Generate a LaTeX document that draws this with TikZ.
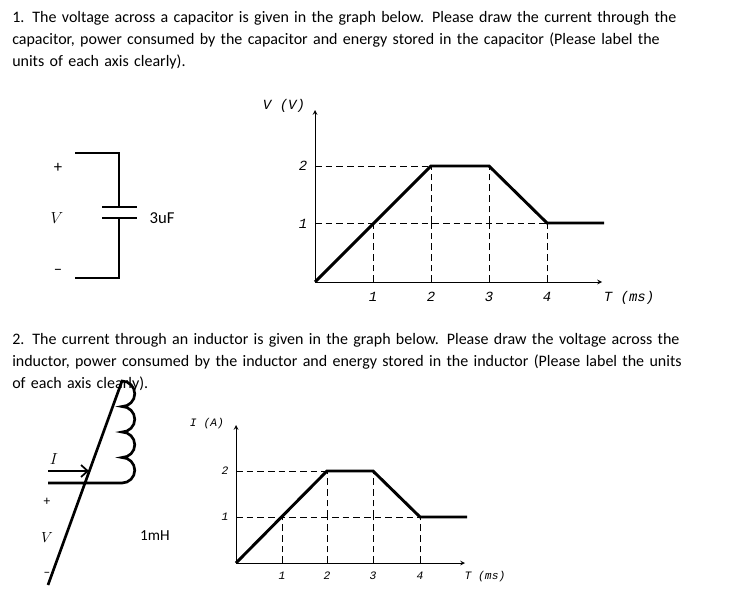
\documentclass[tikz,border=0pt]{standalone}
\usepackage{fontspec}
\usetikzlibrary{arrows.meta}
\setmainfont{Carlito}
\newfontfamily\graphfont{Liberation Mono}
\begin{document}
\begin{tikzpicture}[x=0.75pt,y=-0.75pt,
  ax/.style={line width=0.6pt,-stealth},
  dsh/.style={line width=0.6pt,dash pattern=on 5pt off 3pt},
  crv/.style={line width=2.2pt,line join=miter},
  wire/.style={line width=2pt},
  glab/.style={font=\graphfont\itshape\fontsize{10.5}{12}\selectfont},
  glabs/.style={font=\graphfont\itshape\fontsize{8.5}{10}\selectfont},
  para/.style={anchor=north west,align=left,text width=504pt,inner sep=0pt,font=\fontsize{12}{16.5}\selectfont},
  ctext/.style={font=\fontsize{12.5}{14}\selectfont}]
\useasboundingbox (0,0) rectangle (729,589);
\fill[white] (0,0) rectangle (729,589);
\node[para] (p1) at (12,11) {1. The voltage across a capacitor is given in the graph below. Please draw the current through the capacitor, power consumed by the capacitor and energy stored in the capacitor (Please label the units of each axis clearly).};
\node[para] (p2) at (12,333) {2. The current through an inductor is given in the graph below. Please draw the voltage across the inductor, power consumed by the inductor and energy stored in the inductor (Please label the units of each axis clearly).};
% capacitor
\draw[wire] (75,153) -- (119,153) -- (119,207);
\draw[wire] (102,207) -- (137,207);
\draw[wire] (102,218) -- (137,218);
\draw[wire] (119,218) -- (119,278) -- (75,278);
\node[ctext] (cp) at (58,168) {+};
\node[font=\itshape\fontsize{13}{14}\selectfont] (cv) at (57,218) {$V$};
\node[ctext] (cm) at (58,272) {\textendash};
\node[ctext] (cl) at (162,218) {3uF};
% top graph
\coordinate (o1) at (315,282);
\draw[ax] (o1) -- (602,282);
\draw[ax] (o1) -- (315,110);
\foreach \x in {373,431,489,547} \draw[dsh] (\x,282) -- (\x,223);
\draw[dsh] (431,223) -- (431,166); \draw[dsh] (489,223) -- (489,166);
\draw[dsh] (315,223) -- (547,223);
\draw[dsh] (315,166) -- (431,166);
\draw[crv] (o1) -- (431,166) -- (489,166) -- (547,223) -- (604,223);
\node[glab] (vl) at (284,106) {V (V)};
\node[glab] (tl) at (629,298) {T (ms)};
\node[glab] at (303,166) {2};
\node[glab] at (303,224) {1};
\node[glab] at (373,297) {1};
\node[glab] at (431,297) {2};
\node[glab] at (489,297) {3};
\node[glab] at (547,297) {4};
% inductor
\draw[wire] (48,483) -- (122,483) arc (-90:90:9.56pt) arc (-90:90:9.56pt) arc (-90:90:9.56pt) arc (-90:90:9.56pt) -- (48,585);
\draw[line width=1.3pt,-{Straight Barb[length=5pt,width=9pt]}] (48,471) -- (89,471);
\node[font=\itshape\fontsize{12}{14}\selectfont] (il) at (54,459) {$I$};
\node[font=\fontsize{10}{12}\selectfont] at (47,502) {+};
\node[font=\fontsize{11}{12}\selectfont] at (47,538) {$V$};
\node[font=\fontsize{10}{12}\selectfont] at (47,574) {\textendash};
\node[font=\fontsize{11.5}{13}\selectfont] (ll) at (155,536) {1mH};
% bottom graph
\coordinate (o2) at (236,563);
\draw[ax] (o2) -- (465,563);
\draw[ax] (o2) -- (236,425);
\foreach \x in {282,327,373,420} \draw[dsh] (\x,563) -- (\x,517);
\draw[dsh] (327,517) -- (327,471); \draw[dsh] (373,517) -- (373,471);
\draw[dsh] (236,517) -- (420,517);
\draw[dsh] (236,471) -- (327,471);
\draw[crv] (o2) -- (327,471) -- (373,471) -- (420,517) -- (467,517);
\node[glabs] at (207,424) {I (A)};
\node[glabs] at (485,577) {T (ms)};
\node[glabs] at (225,471) {2};
\node[glabs] at (225,517) {1};
\node[glabs] at (282,576) {1};
\node[glabs] at (327,576) {2};
\node[glabs] at (373,576) {3};
\node[glabs] at (420,576) {4};
\end{tikzpicture}
\end{document}
